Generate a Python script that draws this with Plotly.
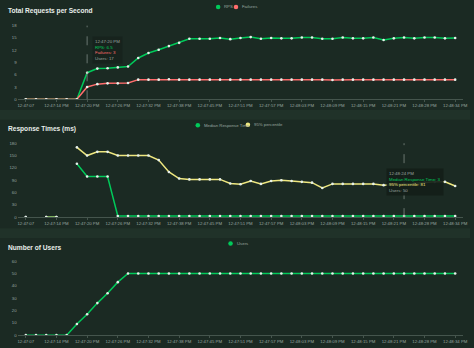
import plotly.graph_objects as go

W, H = 474, 348

# ---------------- data ----------------
times = [
    "12:47:07", "12:47:09 PM", "12:47:11 PM", "12:47:14 PM", "12:47:16 PM", "12:47:18 PM",
    "12:47:20 PM", "12:47:22 PM", "12:47:24 PM", "12:47:26 PM", "12:47:28 PM", "12:47:30 PM",
    "12:47:32 PM", "12:47:34 PM", "12:47:36 PM", "12:47:38 PM", "12:47:40 PM", "12:47:42 PM",
    "12:47:45 PM", "12:47:47 PM", "12:47:49 PM", "12:47:51 PM", "12:47:53 PM", "12:47:55 PM",
    "12:47:57 PM", "12:47:59 PM", "12:48:01 PM", "12:48:03 PM", "12:48:05 PM", "12:48:07 PM",
    "12:48:09 PM", "12:48:11 PM", "12:48:13 PM", "12:48:15 PM", "12:48:17 PM", "12:48:19 PM",
    "12:48:21 PM", "12:48:24 PM", "12:48:26 PM", "12:48:28 PM", "12:48:30 PM", "12:48:32 PM",
    "12:48:34 PM",
]
tick_labels = times[::3]

rps = [0, 0, 0, 0, 0, 0, 6.5, 7.5, 7.6, 7.8, 8.0, 10.1, 11.3, 12.1, 13.0, 13.8, 14.8, 14.8,
       14.8, 15.0, 14.7, 15.0, 15.2, 14.8, 15.0, 14.9, 14.9, 15.1, 15.1, 14.8, 14.8, 15.1,
       14.9, 14.9, 15.1, 14.5, 14.9, 15.1, 14.9, 15.1, 15.1, 14.9, 15.0]
failures = [0, 0, 0, 0, 0, 0, 3, 3.7, 3.9, 3.9, 4.0, 4.8, 4.8, 4.8, 4.9, 4.8, 4.8, 4.8,
            4.8, 4.8, 4.8, 4.8, 4.8, 4.8, 4.8, 4.8, 4.8, 4.8, 4.8, 4.8, 4.7, 4.8,
            4.8, 4.8, 4.8, 4.8, 4.8, 4.8, 4.8, 4.8, 4.8, 4.8, 4.8]
median_rt = [0, None, 0, 0, None, 130, 99, 99, 99, 3, 3, 3, 3, 3, 3, 3, 3, 3,
             3, 3, 3, 3, 3, 3, 3, 3, 3, 3, 3, 3, 3, 3, 3, 3, 3, 3, 3, 3, 3, 3, 3, 3, 3]
p95_rt = [0, None, 0, 0, None, 170, 150, 159, 159, 150, 150, 150, 150, 139, 110, 94, 92, 92,
          92, 92, 82, 80, 88, 81, 88, 90, 88, 86, 84, 71, 81, 81, 81, 81, 81, 78, 80, 81,
          82, 84, 86, 86, 76]
users = [0, 0, 0, 0, 0, 9, 17, 26, 34, 43] + [50] * 33

# ---------------- style ----------------
BG = "#1b2a23"
GAP = "#203229"
GREEN = "#00ca5a"
RED = "#ff6d6d"
YELLOW = "#eee77f"
TXT = "#9aa6a0"
DOT = "#e6f0ea"
FONT = "Liberation Sans, Arial, sans-serif"


def fx(px):
    return px / W


def fy(py):
    return 1 - py / H


fig = go.Figure()

panels = [
    # (title, ypix top, ypix bottom, yrange, dtick, title y)
    ("Total Requests per Second", 24, 98.7, [0, 18], 3, 9),
    ("Response Times (ms)", 143.3, 218.3, [0, 180], 30, 129),
    ("Number of Users", 263, 338, [0, 60], 10, 249),
]

series = [
    [("RPS", rps, GREEN), ("Failures", failures, RED)],
    [("Median Response Time", median_rt, GREEN), ("95% percentile", p95_rt, YELLOW)],
    [("Users", users, GREEN)],
]

n = len(times)
xpx0, xpx1 = 17.75, 467.3

for i, (panel, sers) in enumerate(zip(panels, series)):
    title, top, bot, yr, dt, ty = panel
    xa = "x" if i == 0 else f"x{i+1}"
    ya = "y" if i == 0 else f"y{i+1}"
    for name, vals, col in sers:
        fig.add_trace(go.Scatter(
            x=times, y=vals, name=name, mode="lines+markers",
            line=dict(color=col, width=1.5),
            marker=dict(color=DOT, size=2.6, line=dict(width=0)),
            xaxis=xa, yaxis=ya, showlegend=False, connectgaps=False,
        ))
    key = "" if i == 0 else str(i + 1)
    fig.layout["xaxis" + key] = dict(
        domain=[fx(xpx0), fx(xpx1)], anchor=ya, type="category",
        categoryorder="array", categoryarray=times,
        range=[-0.8, n - 1 + 0.8],
        tickmode="array", tickvals=tick_labels, ticktext=tick_labels,
        tickfont=dict(size=4.3, color=TXT, family=FONT),
        showgrid=False, zeroline=False, showline=True, linecolor="#45554d", linewidth=1,
        ticks="outside", ticklen=2, tickcolor="#45554d", fixedrange=True,
    )
    fig.layout["yaxis" + key] = dict(
        domain=[fy(bot), fy(top)], anchor=xa, range=yr, dtick=dt,
        tickfont=dict(size=4.3, color=TXT, family=FONT),
        showgrid=False, zeroline=False, showline=False, ticks="", fixedrange=True,
    )
    fig.add_annotation(
        text=f"<b>{title}</b>", x=fx(6.5), y=fy(ty), xref="paper", yref="paper",
        xanchor="left", yanchor="middle", showarrow=False,
        font=dict(size=6.6, color="#e8eeea", family=FONT),
    )

# card backgrounds / gaps
shapes = []
for y0, y1 in [(109.5, 119.5), (229.5, 239.5)]:
    shapes.append(dict(type="rect", xref="paper", yref="paper", x0=0, x1=1,
                       y0=fy(y1), y1=fy(y0), fillcolor=GAP, line=dict(width=0), layer="below"))

# legends (manual, centred at top of each card)
legends = [
    [(220, 5, GREEN, "RPS"), (238, 5, RED, "Failures")],
    [(199.5, 125, GREEN, "Median Response Time"), (250, 124.5, YELLOW, "95% percentile")],
    [(232.5, 245, GREEN, "Users")],
]
for items in legends:
    for cx, cy, col, label in items:
        r = 2.3
        shapes.append(dict(type="circle", xref="paper", yref="paper",
                           x0=fx(cx - r), x1=fx(cx + r), y0=fy(cy + r), y1=fy(cy - r),
                           fillcolor=col, line=dict(width=0)))
        fig.add_annotation(text=label, x=fx(cx + 4), y=fy(cy), xref="paper", yref="paper",
                           xanchor="left", yanchor="middle", showarrow=False,
                           font=dict(size=4.3, color=TXT, family=FONT))

# hover guide lines (tooltips visible in the screenshot)
hover1 = 6
hover2 = 37
shapes.append(dict(type="line", xref="x", yref="paper", x0=times[hover1], x1=times[hover1],
                   y0=fy(98.7), y1=fy(24), line=dict(color="#7d8a84", width=0.8, dash="dash")))
shapes.append(dict(type="line", xref="x2", yref="paper", x0=times[hover2], x1=times[hover2],
                   y0=fy(218.3), y1=fy(143.3), line=dict(color="#7d8a84", width=0.8, dash="dash")))

tip1 = (f"{times[hover1]}<br>"
        f"<span style='color:{GREEN}'>RPS: {rps[hover1]}</span><br>"
        f"<span style='color:{RED}'>Failures: {failures[hover1]:g}</span><br>"
        f"Users: {users[hover1]}")
fig.add_annotation(text=tip1, x=times[hover1], y=fy(49), xref="x", yref="paper",
                   xanchor="left", yanchor="middle", xshift=5, showarrow=False, align="left",
                   font=dict(size=4.4, color=TXT, family=FONT),
                   bgcolor="rgba(22,34,28,0.85)", borderpad=2)
tip2 = (f"{times[hover2]}<br>"
        f"<span style='color:{GREEN}'>Median Response Time: {median_rt[hover2]}</span><br>"
        f"<span style='color:{YELLOW}'>95% percentile: {p95_rt[hover2]}</span><br>"
        f"Users: {users[hover2]}")
fig.add_annotation(text=tip2, x=times[hover2], y=fy(183), xref="x2", yref="paper",
                   xanchor="left", yanchor="middle", xshift=-18, showarrow=False, align="left",
                   font=dict(size=4.4, color=TXT, family=FONT),
                   bgcolor="rgba(20,30,25,0.92)", borderpad=2)

fig.update_layout(
    width=W, height=H, margin=dict(l=0, r=0, t=0, b=0),
    paper_bgcolor=BG, plot_bgcolor=BG, shapes=shapes, showlegend=False,
    font=dict(family=FONT, color=TXT),
)

fig.write_html("out.html", config={"displayModeBar": False})
